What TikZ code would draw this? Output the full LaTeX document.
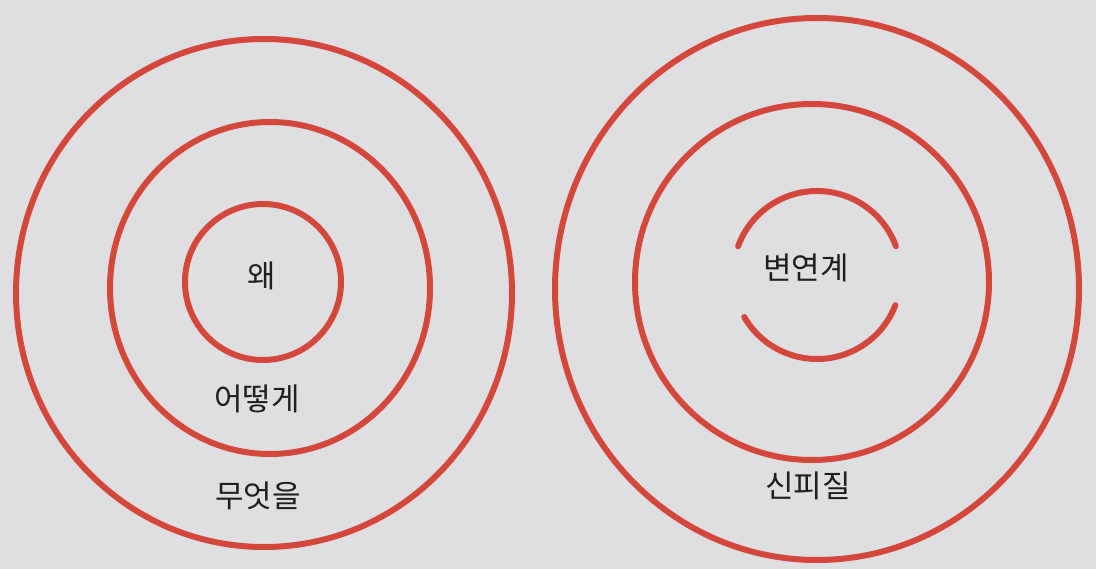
\documentclass[tikz,border=0pt]{standalone}
\usepackage{fontspec}
\setmainfont{Noto Sans CJK KR}
\usepackage{xcolor}
\definecolor{ringred}{RGB}{212,72,60}
\definecolor{paper}{RGB}{223,223,226}
\definecolor{ink}{RGB}{30,30,32}
\tikzset{ring/.style={draw=ringred,line width=6pt,line cap=round},
         word/.style={text=ink,font=\fontsize{31}{34}\selectfont},
         x=1pt,y=-1pt}
\begin{document}
\begin{tikzpicture}
\fill[paper] (0,0) rectangle (1096,569);
\useasboundingbox (0,0) rectangle (1096,569);
% left rings
\draw[ring] (264,293) ellipse (248 and 254);
\draw[ring] (270,288) ellipse (160 and 166);
\draw[ring] (263,282) circle (78);
\node[word] (why) at (262,276) {왜};
\node[word] (how) at (257,399) {어떻게};
\node[word] (what) at (258,496) {무엇을};
% right rings
\draw[ring] (817,289) ellipse (262 and 271);
\draw[ring] (812,282) ellipse (177 and 178);
\draw[ring] (817,275) ++(-20:84) arc[start angle=-20,end angle=-160,radius=84];
\draw[ring] (817,275) ++(150:84) arc[start angle=150,end angle=21,radius=84];
\node[word] (limbic) at (806,268) {변연계};
\node[word] (neo) at (808,486) {신피질};
\end{tikzpicture}
\end{document}
